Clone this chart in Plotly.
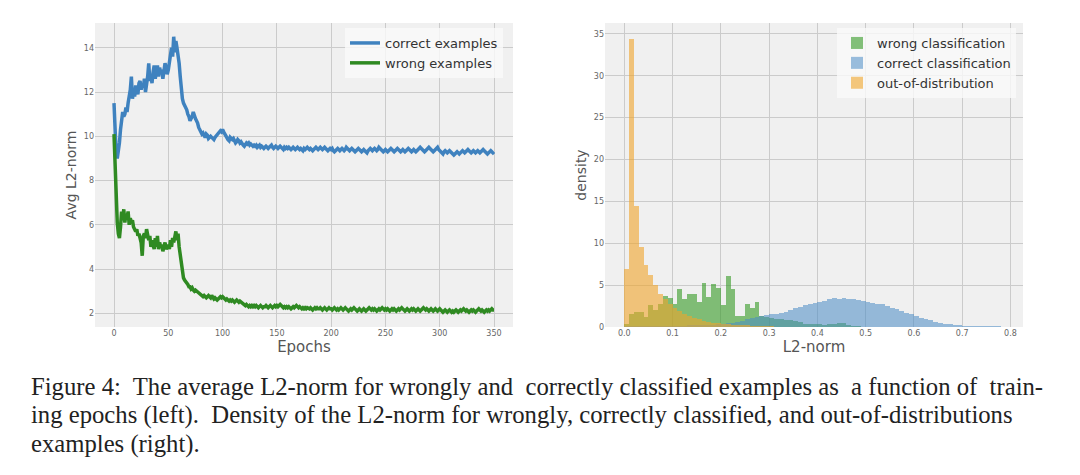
import plotly.graph_objects as go

# ---------------- data ----------------
epochs = list(range(351))

correct_norm = [
    11.5, 9.9, 9.2, 9.0, 9.3, 9.7, 10.3, 10.8, 11.1, 10.9,
    11.0, 11.3, 11.1, 11.5, 11.8, 12.1, 12.7, 11.7, 12.1, 11.8,
    12.3, 12.0, 11.9, 12.4, 12.5, 12.1, 12.4, 12.2, 12.6, 12.0,
    12.3, 12.7, 13.3, 12.5, 12.8, 12.4, 12.9, 13.2, 12.6, 12.9,
    13.2, 12.7, 13.1, 12.9, 13.0, 12.6, 12.9, 13.3, 13.1, 12.8,
    13.0, 13.4, 13.7, 14.0, 13.6, 14.5, 13.8, 14.3, 14.0, 13.7,
    13.3, 12.7, 12.1, 11.7, 11.5, 11.4, 11.3, 11.2, 11.0, 10.9,
    10.7, 10.8, 10.9, 11.1, 10.9, 10.8, 10.7, 10.6, 10.4, 10.3,
    10.2, 10.1, 10.15, 10.0, 9.95, 10.1, 10.05, 9.9, 9.95, 10.0,
    9.95, 9.9, 9.85, 9.95, 10.0, 10.05, 10.1, 10.2, 10.25, 10.2,
    10.3, 10.2, 10.1, 10.0, 9.9, 9.85, 9.8, 9.95, 9.9, 9.85,
    9.9, 9.8, 9.7, 9.75, 9.85, 9.8, 9.7, 9.75, 9.65, 9.6,
    9.55, 9.6, 9.7, 9.65, 9.7, 9.6, 9.65, 9.6, 9.55, 9.6,
    9.55, 9.6, 9.5, 9.55, 9.6, 9.5, 9.55, 9.5, 9.45, 9.5,
    9.55, 9.5, 9.45, 9.5, 9.55, 9.6, 9.5, 9.45, 9.5, 9.55,
    9.5, 9.45, 9.5, 9.55, 9.5, 9.45, 9.4, 9.5, 9.45, 9.5,
    9.45, 9.5, 9.45, 9.4, 9.45, 9.5, 9.45, 9.4, 9.45, 9.5,
    9.45, 9.4, 9.45, 9.4, 9.35, 9.45, 9.4, 9.45, 9.5, 9.45,
    9.4, 9.45, 9.4, 9.35, 9.4, 9.45, 9.5, 9.45, 9.4, 9.45,
    9.5, 9.45, 9.4, 9.45, 9.5, 9.45, 9.4, 9.35, 9.4, 9.45,
    9.4, 9.45, 9.35, 9.3, 9.35, 9.4, 9.45, 9.4, 9.35, 9.4,
    9.45, 9.4, 9.35, 9.4, 9.5, 9.45, 9.4, 9.35, 9.4, 9.45,
    9.4, 9.35, 9.3, 9.35, 9.4, 9.45, 9.4, 9.35, 9.3, 9.35,
    9.4, 9.35, 9.3, 9.25, 9.35, 9.4, 9.45, 9.4, 9.35, 9.4,
    9.45, 9.4, 9.35, 9.4, 9.5, 9.45, 9.4, 9.35, 9.3, 9.35,
    9.4, 9.35, 9.3, 9.35, 9.4, 9.45, 9.4, 9.35, 9.3, 9.35,
    9.4, 9.45, 9.4, 9.35, 9.3, 9.35, 9.4, 9.35, 9.3, 9.35,
    9.4, 9.45, 9.4, 9.35, 9.3, 9.35, 9.4, 9.35, 9.3, 9.35,
    9.4, 9.45, 9.5, 9.45, 9.4, 9.35, 9.3, 9.35, 9.4, 9.45,
    9.5, 9.45, 9.4, 9.35, 9.3, 9.35, 9.4, 9.45, 9.5, 9.4,
    9.35, 9.3, 9.25, 9.2, 9.3, 9.35, 9.3, 9.25, 9.3, 9.35,
    9.3, 9.25, 9.2, 9.15, 9.2, 9.25, 9.3, 9.25, 9.2, 9.25,
    9.3, 9.35, 9.3, 9.25, 9.3, 9.35, 9.4, 9.35, 9.3, 9.25,
    9.3, 9.35, 9.3, 9.25, 9.3, 9.35, 9.3, 9.25, 9.3, 9.35,
    9.4, 9.35, 9.3, 9.25, 9.2, 9.25, 9.3, 9.35, 9.3, 9.25,
    9.3,
]

wrong_norm = [
    10.1, 8.3, 6.9, 6.1, 5.6, 5.4, 5.9, 6.6, 6.2, 6.7,
    6.1, 6.5, 6.3, 6.6, 6.0, 6.3, 6.1, 6.2, 5.9, 5.8,
    5.7, 5.8, 5.5, 5.6, 5.4, 5.2, 4.6, 5.5, 5.6, 5.4,
    5.8, 5.6, 5.3, 5.5, 5.0, 5.3, 5.1, 4.9, 5.4, 5.0,
    5.5, 4.9, 5.2, 5.0, 5.1, 4.8, 5.0, 5.2, 4.9, 5.0,
    5.1, 4.9, 5.3, 5.0, 5.4, 5.2, 5.5, 5.7, 5.3, 5.6,
    5.0, 4.6, 4.2, 3.8, 3.6, 3.5, 3.45, 3.4, 3.3, 3.2,
    3.2, 3.1, 3.15, 3.05, 3.0, 3.05, 3.0, 2.95, 2.9, 2.85,
    2.85, 2.8, 2.75, 2.8, 2.75, 2.7, 2.75, 2.8, 2.75, 2.7,
    2.8, 2.75, 2.65, 2.7, 2.65, 2.6, 2.65, 2.7, 2.75, 2.7,
    2.75, 2.7, 2.65, 2.6, 2.65, 2.6, 2.55, 2.6, 2.55, 2.6,
    2.55, 2.5, 2.55, 2.6, 2.55, 2.5, 2.55, 2.5, 2.45, 2.4,
    2.4, 2.35, 2.4, 2.35, 2.3, 2.35, 2.3, 2.35, 2.3, 2.35,
    2.3, 2.35, 2.3, 2.25, 2.3, 2.35, 2.3, 2.25, 2.3, 2.3,
    2.35, 2.3, 2.25, 2.3, 2.35, 2.3, 2.25, 2.3, 2.35, 2.3,
    2.35, 2.3, 2.35, 2.4, 2.35, 2.3, 2.25, 2.3, 2.25, 2.3,
    2.25, 2.3, 2.25, 2.2, 2.25, 2.3, 2.25, 2.3, 2.35, 2.3,
    2.25, 2.3, 2.25, 2.2, 2.25, 2.2, 2.25, 2.2, 2.25, 2.2,
    2.2, 2.25, 2.2, 2.15, 2.2, 2.25, 2.2, 2.25, 2.2, 2.2,
    2.25, 2.2, 2.15, 2.2, 2.25, 2.2, 2.15, 2.2, 2.25, 2.2,
    2.2, 2.15, 2.2, 2.25, 2.2, 2.15, 2.2, 2.15, 2.2, 2.25,
    2.2, 2.15, 2.2, 2.25, 2.2, 2.15, 2.1, 2.15, 2.2, 2.15,
    2.2, 2.25, 2.2, 2.15, 2.1, 2.15, 2.2, 2.15, 2.1, 2.15,
    2.2, 2.15, 2.1, 2.15, 2.2, 2.25, 2.2, 2.15, 2.2, 2.15,
    2.2, 2.15, 2.1, 2.15, 2.2, 2.15, 2.2, 2.25, 2.2, 2.15,
    2.2, 2.15, 2.2, 2.15, 2.1, 2.15, 2.2, 2.15, 2.2, 2.15,
    2.1, 2.15, 2.2, 2.15, 2.2, 2.25, 2.2, 2.15, 2.1, 2.15,
    2.2, 2.15, 2.1, 2.15, 2.2, 2.15, 2.2, 2.15, 2.1, 2.15,
    2.2, 2.15, 2.1, 2.15, 2.2, 2.25, 2.2, 2.15, 2.2, 2.15,
    2.1, 2.15, 2.2, 2.15, 2.1, 2.15, 2.2, 2.15, 2.1, 2.15,
    2.2, 2.15, 2.1, 2.05, 2.1, 2.15, 2.1, 2.05, 2.1, 2.15,
    2.1, 2.05, 2.1, 2.05, 2.1, 2.15, 2.1, 2.05, 2.1, 2.15,
    2.1, 2.15, 2.2, 2.15, 2.1, 2.15, 2.1, 2.05, 2.1, 2.15,
    2.1, 2.15, 2.1, 2.05, 2.1, 2.15, 2.2, 2.15, 2.1, 2.15,
    2.1, 2.05, 2.1, 2.15, 2.1, 2.15, 2.1, 2.15, 2.2, 2.15,
    2.15,
]

# histogram densities, bins of width 0.01 starting at 0.0
bin_width = 0.01
wrong_density = [
    0.3, 1.6, 1.8, 1.8, 1.2, 2.6, 2.0, 2.8, 3.7, 3.5,
    2.8, 4.5, 3.3, 4.0, 4.0, 3.0, 5.3, 3.6, 5.1, 4.7,
    2.6, 6.1, 4.5, 1.3, 1.3, 2.7, 2.3, 3.0, 1.3, 1.2,
    1.1, 1.0, 0.9, 0.8, 0.8, 0.7, 0.6, 0.4, 0.3, 0.3,
    0.3, 0.25, 0.3, 0.4, 0.5, 0.45, 0.2, 0.1, 0.05,
]
correct_density = [
    0.02, 0.03, 0.03, 0.04, 0.04, 0.05, 0.05, 0.06, 0.07, 0.08,
    0.09, 0.1, 0.12, 0.14, 0.16, 0.18, 0.2, 0.23, 0.26, 0.3,
    0.35, 0.42, 0.5, 0.6, 0.75, 0.9, 1.05, 1.2, 1.35, 1.45,
    1.55, 1.6, 1.7, 1.85, 2.05, 2.25, 2.4, 2.6, 2.75, 2.9,
    3.0, 3.15, 3.3, 3.5, 3.4, 3.45, 3.35, 3.3, 3.2, 3.1,
    3.0, 2.9, 2.8, 2.7, 2.5, 2.3, 2.1, 1.9, 1.7, 1.5,
    1.3, 1.1, 0.95, 0.8, 0.65, 0.5, 0.4, 0.3, 0.22, 0.17,
    0.12, 0.09, 0.06, 0.04, 0.03, 0.02, 0.01, 0.01,
]
ood_density = [
    6.9, 34.4, 14.4, 9.6, 7.4, 6.2, 5.0, 4.0, 3.3, 2.8,
    2.3, 1.9, 1.6, 1.35, 1.1, 0.9, 0.75, 0.6, 0.5, 0.42,
    0.35, 0.3, 0.25, 0.2, 0.17, 0.14, 0.12, 0.1, 0.08, 0.06,
    0.05,
]

left_xticks = [0, 50, 100, 150, 200, 250, 300, 350]
left_yticks = [2, 4, 6, 8, 10, 12, 14]
right_xticks = [0.0, 0.1, 0.2, 0.3, 0.4, 0.5, 0.6, 0.7, 0.8]
right_yticks = [0, 5, 10, 15, 20, 25, 30, 35]

caption_lines = [
    "Figure 4:  The average L2-norm for wrongly and  correctly classified examples as  a function of  train-",
    "ing epochs (left).  Density of the L2-norm for wrongly, correctly classified, and out-of-distributions",
    "examples (right).",
]


def centers(values):
    return [round((i + 0.5) * bin_width, 4) for i in range(len(values))]


# ---------------- figure ----------------
W, H = 1080, 475
fig = go.Figure()

FONT = "DejaVu Sans"

fig.add_trace(go.Scatter(x=epochs, y=correct_norm, mode="lines", name="correct examples",
                         line=dict(color="#3f82bf", width=3.5), xaxis="x", yaxis="y",
                         legend="legend"))
fig.add_trace(go.Scatter(x=epochs, y=wrong_norm, mode="lines", name="wrong examples",
                         line=dict(color="#2f8a22", width=3.5), xaxis="x", yaxis="y",
                         legend="legend"))

fig.add_trace(go.Bar(x=centers(wrong_density), y=wrong_density, width=bin_width,
                     name="wrong classification", marker=dict(color="#359a25", line_width=0),
                     opacity=0.6, xaxis="x2", yaxis="y2", legend="legend2"))
fig.add_trace(go.Bar(x=centers(correct_density), y=correct_density, width=bin_width,
                     name="correct classification", marker=dict(color="#4a8cc6", line_width=0),
                     opacity=0.55, xaxis="x2", yaxis="y2", legend="legend2"))
fig.add_trace(go.Bar(x=centers(ood_density), y=ood_density, width=bin_width,
                     name="out-of-distribution", marker=dict(color="#f0a52b", line_width=0),
                     opacity=0.6, xaxis="x2", yaxis="y2", legend="legend2"))

ydom = [1 - 327 / H, 1 - 23 / H]
axis_common = dict(showgrid=True, gridcolor="#cbcbcb", gridwidth=1, zeroline=False,
                   showline=False, ticks="", automargin=False,
                   tickfont=dict(family=FONT, size=8, color="#666666"))

fig.update_layout(
    width=W, height=H,
    margin=dict(l=0, r=0, t=0, b=0),
    paper_bgcolor="white",
    plot_bgcolor="#f0f0f0",
    barmode="overlay",
    bargap=0,
    font=dict(family=FONT, color="#444444"),
    xaxis=dict(domain=[95 / W, 513 / W], range=[-17.5, 367.5], tickvals=left_xticks,
               title=dict(text="Epochs", font=dict(size=15, color="#555555"), standoff=3),
               anchor="y", **axis_common),
    yaxis=dict(domain=ydom, range=[1.38, 15.12], tickvals=left_yticks,
               title=dict(text="Avg L2-norm", font=dict(size=14, color="#555555"), standoff=3),
               anchor="x", **axis_common),
    xaxis2=dict(domain=[605 / W, 1023 / W], range=[-0.04, 0.826], tickvals=right_xticks,
                ticktext=[f"{v:.1f}" for v in right_xticks],
                title=dict(text="L2-norm", font=dict(size=15, color="#555555"), standoff=3),
                anchor="y2", **axis_common),
    yaxis2=dict(domain=ydom, range=[0, 36.3], tickvals=right_yticks,
                title=dict(text="density", font=dict(size=14, color="#555555"), standoff=3),
                anchor="x2", **axis_common),
    legend=dict(x=503 / W, xanchor="right", y=1 - 28 / H, yanchor="top",
                bgcolor="rgba(250,250,250,0.8)", borderwidth=0,
                font=dict(family=FONT, size=13, color="#333333"), tracegroupgap=0),
    legend2=dict(x=1016 / W, xanchor="right", y=1 - 28 / H, yanchor="top",
                 bgcolor="rgba(250,250,250,0.8)", borderwidth=0,
                 font=dict(family=FONT, size=13, color="#333333"), tracegroupgap=0),
    showlegend=True,
)

caption_centers = [386, 415, 444]
for line, yc in zip(caption_lines, caption_centers):
    fig.add_annotation(text=line, xref="paper", yref="paper", x=29 / W, y=1 - yc / H,
                       xanchor="left", yanchor="middle", showarrow=False,
                       font=dict(family="Liberation Serif", size=24.7, color="#222222"))

fig.write_html("out.html", config={"displayModeBar": False},
               post_script="document.body.style.margin='0';document.body.style.padding='0';")
